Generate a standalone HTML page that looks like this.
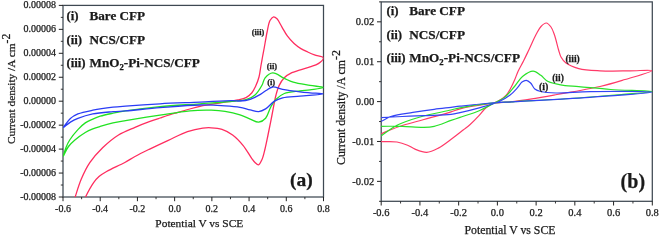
<!DOCTYPE html><html><head><meta charset="utf-8"><style>html,body{margin:0;padding:0;background:#fff;overflow:hidden}svg{display:block}text{font-family:"Liberation Serif",serif;fill:#1a1a1a;stroke:#1a1a1a;stroke-width:0.25px}svg{will-change:transform}</style></head><body>
<svg width="661" height="235" viewBox="0 0 661 235">
<defs><clipPath id="ca"><rect x="63.0" y="5.4" width="260.5" height="191.6"/></clipPath>
<clipPath id="cb"><rect x="381.2" y="1.9" width="271.1" height="199.4"/></clipPath></defs>
<rect x="63.00" y="5.40" width="260.50" height="191.60" fill="none" stroke="#3e4852" stroke-width="1.25"/>
<line x1="58.80" y1="5.40" x2="63.00" y2="5.40" stroke="#222" stroke-width="1"/>
<line x1="58.80" y1="29.35" x2="63.00" y2="29.35" stroke="#222" stroke-width="1"/>
<line x1="58.80" y1="53.30" x2="63.00" y2="53.30" stroke="#222" stroke-width="1"/>
<line x1="58.80" y1="77.25" x2="63.00" y2="77.25" stroke="#222" stroke-width="1"/>
<line x1="58.80" y1="101.20" x2="63.00" y2="101.20" stroke="#222" stroke-width="1"/>
<line x1="58.80" y1="125.15" x2="63.00" y2="125.15" stroke="#222" stroke-width="1"/>
<line x1="58.80" y1="149.10" x2="63.00" y2="149.10" stroke="#222" stroke-width="1"/>
<line x1="58.80" y1="173.05" x2="63.00" y2="173.05" stroke="#222" stroke-width="1"/>
<line x1="58.80" y1="197.00" x2="63.00" y2="197.00" stroke="#222" stroke-width="1"/>
<line x1="60.80" y1="17.38" x2="63.00" y2="17.38" stroke="#222" stroke-width="0.9"/>
<line x1="60.80" y1="41.32" x2="63.00" y2="41.32" stroke="#222" stroke-width="0.9"/>
<line x1="60.80" y1="65.28" x2="63.00" y2="65.28" stroke="#222" stroke-width="0.9"/>
<line x1="60.80" y1="89.23" x2="63.00" y2="89.23" stroke="#222" stroke-width="0.9"/>
<line x1="60.80" y1="113.17" x2="63.00" y2="113.17" stroke="#222" stroke-width="0.9"/>
<line x1="60.80" y1="137.12" x2="63.00" y2="137.12" stroke="#222" stroke-width="0.9"/>
<line x1="60.80" y1="161.07" x2="63.00" y2="161.07" stroke="#222" stroke-width="0.9"/>
<line x1="60.80" y1="185.03" x2="63.00" y2="185.03" stroke="#222" stroke-width="0.9"/>
<line x1="63.00" y1="197.00" x2="63.00" y2="201.20" stroke="#222" stroke-width="1"/>
<line x1="100.21" y1="197.00" x2="100.21" y2="201.20" stroke="#222" stroke-width="1"/>
<line x1="137.43" y1="197.00" x2="137.43" y2="201.20" stroke="#222" stroke-width="1"/>
<line x1="174.64" y1="197.00" x2="174.64" y2="201.20" stroke="#222" stroke-width="1"/>
<line x1="211.86" y1="197.00" x2="211.86" y2="201.20" stroke="#222" stroke-width="1"/>
<line x1="249.07" y1="197.00" x2="249.07" y2="201.20" stroke="#222" stroke-width="1"/>
<line x1="286.29" y1="197.00" x2="286.29" y2="201.20" stroke="#222" stroke-width="1"/>
<line x1="323.50" y1="197.00" x2="323.50" y2="201.20" stroke="#222" stroke-width="1"/>
<line x1="81.61" y1="197.00" x2="81.61" y2="199.20" stroke="#222" stroke-width="0.9"/>
<line x1="118.82" y1="197.00" x2="118.82" y2="199.20" stroke="#222" stroke-width="0.9"/>
<line x1="156.04" y1="197.00" x2="156.04" y2="199.20" stroke="#222" stroke-width="0.9"/>
<line x1="193.25" y1="197.00" x2="193.25" y2="199.20" stroke="#222" stroke-width="0.9"/>
<line x1="230.46" y1="197.00" x2="230.46" y2="199.20" stroke="#222" stroke-width="0.9"/>
<line x1="267.68" y1="197.00" x2="267.68" y2="199.20" stroke="#222" stroke-width="0.9"/>
<line x1="304.89" y1="197.00" x2="304.89" y2="199.20" stroke="#222" stroke-width="0.9"/>
<text x="56.00" y="7.90" font-size="10.00" text-anchor="end">0.00008</text>
<text x="56.00" y="31.85" font-size="10.00" text-anchor="end">0.00006</text>
<text x="56.00" y="55.80" font-size="10.00" text-anchor="end">0.00004</text>
<text x="56.00" y="79.75" font-size="10.00" text-anchor="end">0.00002</text>
<text x="56.00" y="103.70" font-size="10.00" text-anchor="end">0.00000</text>
<text x="56.00" y="127.65" font-size="10.00" text-anchor="end">-0.00002</text>
<text x="56.00" y="151.60" font-size="10.00" text-anchor="end">-0.00004</text>
<text x="56.00" y="175.55" font-size="10.00" text-anchor="end">-0.00006</text>
<text x="56.00" y="199.50" font-size="10.00" text-anchor="end">-0.00008</text>
<text x="63.00" y="211.60" font-size="10.00" text-anchor="middle">-0.6</text>
<text x="100.21" y="211.60" font-size="10.00" text-anchor="middle">-0.4</text>
<text x="137.43" y="211.60" font-size="10.00" text-anchor="middle">-0.2</text>
<text x="174.64" y="211.60" font-size="10.00" text-anchor="middle">0.0</text>
<text x="211.86" y="211.60" font-size="10.00" text-anchor="middle">0.2</text>
<text x="249.07" y="211.60" font-size="10.00" text-anchor="middle">0.4</text>
<text x="286.29" y="211.60" font-size="10.00" text-anchor="middle">0.6</text>
<text x="323.50" y="211.60" font-size="10.00" text-anchor="middle">0.8</text>
<path d="M73.00,204.00 C73.77,201.53 74.33,199.58 75.30,196.60 C76.80,191.99 78.88,184.75 81.30,179.10 C83.72,173.45 86.32,167.85 89.80,162.70 C93.38,157.39 97.87,152.38 102.60,147.80 C107.42,143.13 112.93,138.47 118.50,135.00 C123.76,131.72 129.60,129.62 135.00,127.30 C140.08,125.12 145.49,123.05 150.00,121.40 C153.65,120.06 156.32,119.21 160.00,118.00 C164.49,116.52 169.35,114.88 175.00,113.20 C182.26,111.04 191.89,108.10 200.00,106.30 C207.52,104.63 215.25,103.72 222.00,102.60 C227.76,101.65 233.61,101.01 238.00,100.00 C241.15,99.27 243.66,98.83 246.00,97.60 C248.19,96.45 250.12,94.83 251.70,93.00 C253.30,91.14 254.35,88.93 255.50,86.50 C256.83,83.68 258.11,80.33 259.00,77.00 C259.94,73.51 260.29,69.48 260.90,66.00 C261.45,62.85 261.95,60.00 262.50,57.00 C263.05,54.00 263.57,51.43 264.20,48.00 C265.05,43.43 266.04,36.88 267.10,32.00 C268.00,27.83 268.52,23.15 270.00,20.50 C270.98,18.75 272.35,16.97 273.60,16.80 C274.69,16.65 275.89,17.70 277.00,18.80 C278.76,20.54 280.39,24.46 282.10,27.30 C283.82,30.16 285.31,33.21 287.30,35.90 C289.31,38.61 291.72,41.32 294.10,43.50 C296.27,45.49 298.57,47.16 300.90,48.60 C303.11,49.96 305.42,50.94 307.70,52.00 C309.95,53.04 312.05,53.99 314.50,54.90 C317.27,55.93 323.07,56.22 323.50,57.80 C323.89,59.23 320.44,62.10 318.30,63.60 C316.00,65.20 312.89,65.89 310.00,66.90 C306.94,67.97 303.49,68.81 300.40,69.80 C297.47,70.74 294.57,71.38 291.90,72.70 C289.20,74.04 286.42,75.68 284.30,77.80 C282.18,79.92 280.57,82.62 279.20,85.40 C277.76,88.33 277.01,91.18 276.00,95.00 C274.56,100.42 273.33,108.33 272.00,115.00 C270.67,121.67 269.26,128.93 268.00,135.00 C266.95,140.09 266.08,144.69 265.00,149.00 C264.06,152.77 263.30,156.67 262.00,159.50 C261.01,161.66 259.82,164.53 258.50,164.80 C257.43,165.02 256.08,163.48 255.00,162.50 C253.79,161.40 253.01,160.18 251.70,158.40 C249.47,155.35 246.41,149.52 243.20,145.60 C240.03,141.73 236.35,137.77 232.60,135.00 C229.24,132.52 225.65,130.60 222.00,129.40 C218.54,128.26 214.67,127.99 211.30,127.80 C208.31,127.63 206.02,127.68 202.80,128.10 C198.42,128.67 192.80,129.81 187.50,131.60 C181.36,133.67 174.68,137.35 168.30,140.30 C161.91,143.25 155.08,146.43 149.20,149.30 C144.10,151.80 139.31,154.14 135.00,156.50 C131.28,158.53 128.73,160.37 124.80,162.50 C119.65,165.28 111.30,168.81 106.60,171.50 C103.45,173.30 101.19,174.60 99.00,176.50 C96.97,178.27 95.60,179.88 93.80,182.40 C91.17,186.08 87.50,192.97 85.50,197.00 C84.15,199.71 83.50,201.67 82.50,204.00" fill="none" stroke="#ff2d5f" stroke-width="1.30" stroke-linejoin="round" clip-path="url(#ca)"/>
<path d="M63.20,156.40 C64.13,153.43 64.88,150.30 66.00,147.50 C67.06,144.85 68.05,142.61 69.70,140.00 C71.78,136.71 75.11,132.59 77.90,129.60 C80.32,127.01 82.70,124.69 85.30,122.90 C87.69,121.26 90.28,120.23 92.80,119.10 C95.25,118.00 97.36,117.08 100.20,116.20 C103.85,115.06 108.75,114.09 113.00,113.20 C117.18,112.33 120.28,111.70 125.50,110.90 C134.13,109.57 148.06,107.76 160.00,106.60 C172.82,105.35 187.63,104.71 200.00,103.80 C210.72,103.01 221.45,102.36 230.00,101.50 C236.41,100.85 242.30,100.83 246.80,99.40 C250.14,98.34 252.58,97.14 255.00,95.00 C257.78,92.55 260.35,88.15 262.10,85.00 C263.49,82.49 263.44,79.77 265.10,77.80 C266.90,75.67 269.92,73.07 272.80,72.90 C276.20,72.69 280.70,76.77 284.30,78.40 C287.44,79.82 289.70,81.13 293.20,82.20 C297.85,83.62 304.70,84.48 310.00,85.40 C314.74,86.22 323.49,86.77 323.50,87.50 C323.51,88.23 314.17,89.19 310.00,89.80 C306.42,90.32 303.70,90.48 300.00,91.00 C295.35,91.65 288.58,91.76 284.30,93.50 C280.84,94.91 278.11,97.14 275.80,99.50 C273.64,101.72 272.29,104.26 270.70,107.10 C268.86,110.39 267.93,115.63 265.60,118.20 C263.71,120.27 261.17,121.98 258.70,122.20 C256.06,122.43 253.15,120.26 250.20,119.10 C246.94,117.82 243.78,116.03 240.00,114.80 C235.54,113.35 229.91,112.07 225.00,111.30 C220.36,110.58 216.37,110.33 211.30,110.20 C204.98,110.04 197.69,110.14 190.00,110.80 C180.83,111.58 170.34,113.53 160.00,115.10 C148.90,116.78 134.14,119.12 125.50,120.60 C120.29,121.49 117.17,121.95 113.00,122.90 C108.74,123.87 103.87,125.28 100.20,126.40 C97.38,127.26 95.24,127.90 92.80,128.90 C90.28,129.93 87.93,130.94 85.30,132.50 C82.03,134.44 77.86,137.46 74.90,140.00 C72.40,142.14 70.38,143.95 68.50,146.50 C66.42,149.33 64.97,153.10 63.20,156.40" fill="none" stroke="#22e222" stroke-width="1.30" stroke-linejoin="round" clip-path="url(#ca)"/>
<path d="M63.20,127.60 C65.60,124.53 67.74,120.75 70.40,118.40 C72.70,116.36 74.86,115.16 77.90,113.90 C81.92,112.24 87.43,111.26 92.80,110.20 C98.99,108.97 107.06,107.90 113.00,107.20 C117.66,106.65 120.30,106.50 125.50,106.10 C134.14,105.43 148.07,104.45 160.00,103.80 C172.84,103.10 187.36,102.66 200.00,102.10 C211.40,101.59 225.47,100.57 232.50,100.60 C235.88,100.61 237.32,101.15 240.00,101.00 C243.15,100.82 246.87,100.35 250.20,99.30 C253.68,98.20 257.56,96.06 260.40,94.40 C262.60,93.11 264.02,91.71 266.00,90.50 C268.07,89.23 270.10,87.33 272.60,87.00 C275.53,86.62 278.79,88.59 282.60,89.30 C287.59,90.23 294.99,91.19 300.00,91.80 C303.79,92.26 306.42,92.47 310.00,92.80 C314.16,93.18 323.50,93.45 323.50,93.90 C323.50,94.49 307.25,95.41 300.00,96.10 C293.76,96.70 287.30,96.61 282.60,97.80 C279.19,98.67 276.80,99.70 274.10,101.40 C271.11,103.28 268.44,107.17 265.60,108.90 C263.30,110.30 261.15,111.38 258.70,111.60 C256.05,111.83 253.15,110.57 250.20,109.90 C246.95,109.16 243.75,107.96 240.00,107.30 C235.51,106.51 230.64,106.17 225.00,105.80 C217.73,105.32 209.30,104.84 200.00,105.00 C188.22,105.21 172.83,106.67 160.00,107.70 C148.07,108.66 134.15,110.22 125.50,110.90 C120.30,111.31 117.66,111.30 113.00,111.70 C107.07,112.21 98.97,112.64 92.80,113.90 C87.40,115.00 81.97,116.79 77.90,118.40 C74.92,119.58 72.80,120.61 70.40,122.10 C67.90,123.65 65.60,125.77 63.20,127.60" fill="none" stroke="#2a3cf5" stroke-width="1.30" stroke-linejoin="round" clip-path="url(#ca)"/>
<text x="66.40" y="20.00" font-size="12.80" font-weight="bold">(i)</text>
<text x="89.50" y="20.00" font-size="12.80" font-weight="bold" textLength="55.60" lengthAdjust="spacingAndGlyphs">Bare CFP</text>
<text x="66.40" y="43.50" font-size="12.80" font-weight="bold">(ii)</text>
<text x="89.50" y="43.50" font-size="12.80" font-weight="bold" textLength="55.60" lengthAdjust="spacingAndGlyphs">NCS/CFP</text>
<text x="66.40" y="67.00" font-size="12.80" font-weight="bold">(iii)</text>
<text x="89.50" y="67.00" font-size="12.80" font-weight="bold" textLength="110.20" lengthAdjust="spacingAndGlyphs">MnO<tspan font-size="8.45" dy="2.8">2</tspan><tspan dy="-2.8">-Pi-NCS/CFP</tspan></text>
<text x="290" y="185.6" font-size="19.5" font-weight="bold">(a)</text>
<text x="199.3" y="227.1" font-size="11.4" text-anchor="middle">Potential V vs SCE</text>
<text transform="translate(15.0,144.0) rotate(-90)" font-size="11.35">Current density /A cm<tspan font-size="11.6" dy="-5.5">-2</tspan></text>
<text x="258" y="35" font-size="8.3" font-weight="bold" text-anchor="middle">(iii)</text>
<text x="271.9" y="69.2" font-size="8.5" font-weight="bold" text-anchor="middle">(ii)</text>
<text x="271.2" y="84.6" font-size="8.5" font-weight="bold" text-anchor="middle">(i)</text>
<rect x="381.20" y="1.90" width="271.10" height="199.40" fill="none" stroke="#3e4852" stroke-width="1.25"/>
<line x1="377.00" y1="21.84" x2="381.20" y2="21.84" stroke="#222" stroke-width="1"/>
<line x1="377.00" y1="61.72" x2="381.20" y2="61.72" stroke="#222" stroke-width="1"/>
<line x1="377.00" y1="101.60" x2="381.20" y2="101.60" stroke="#222" stroke-width="1"/>
<line x1="377.00" y1="141.48" x2="381.20" y2="141.48" stroke="#222" stroke-width="1"/>
<line x1="377.00" y1="181.36" x2="381.20" y2="181.36" stroke="#222" stroke-width="1"/>
<line x1="379.00" y1="1.90" x2="381.20" y2="1.90" stroke="#222" stroke-width="0.9"/>
<line x1="379.00" y1="41.78" x2="381.20" y2="41.78" stroke="#222" stroke-width="0.9"/>
<line x1="379.00" y1="81.66" x2="381.20" y2="81.66" stroke="#222" stroke-width="0.9"/>
<line x1="379.00" y1="121.54" x2="381.20" y2="121.54" stroke="#222" stroke-width="0.9"/>
<line x1="379.00" y1="161.42" x2="381.20" y2="161.42" stroke="#222" stroke-width="0.9"/>
<line x1="379.00" y1="201.30" x2="381.20" y2="201.30" stroke="#222" stroke-width="0.9"/>
<line x1="381.20" y1="201.30" x2="381.20" y2="205.50" stroke="#222" stroke-width="1"/>
<line x1="419.93" y1="201.30" x2="419.93" y2="205.50" stroke="#222" stroke-width="1"/>
<line x1="458.66" y1="201.30" x2="458.66" y2="205.50" stroke="#222" stroke-width="1"/>
<line x1="497.39" y1="201.30" x2="497.39" y2="205.50" stroke="#222" stroke-width="1"/>
<line x1="536.11" y1="201.30" x2="536.11" y2="205.50" stroke="#222" stroke-width="1"/>
<line x1="574.84" y1="201.30" x2="574.84" y2="205.50" stroke="#222" stroke-width="1"/>
<line x1="613.57" y1="201.30" x2="613.57" y2="205.50" stroke="#222" stroke-width="1"/>
<line x1="652.30" y1="201.30" x2="652.30" y2="205.50" stroke="#222" stroke-width="1"/>
<line x1="400.56" y1="201.30" x2="400.56" y2="203.50" stroke="#222" stroke-width="0.9"/>
<line x1="439.29" y1="201.30" x2="439.29" y2="203.50" stroke="#222" stroke-width="0.9"/>
<line x1="478.02" y1="201.30" x2="478.02" y2="203.50" stroke="#222" stroke-width="0.9"/>
<line x1="516.75" y1="201.30" x2="516.75" y2="203.50" stroke="#222" stroke-width="0.9"/>
<line x1="555.48" y1="201.30" x2="555.48" y2="203.50" stroke="#222" stroke-width="0.9"/>
<line x1="594.21" y1="201.30" x2="594.21" y2="203.50" stroke="#222" stroke-width="0.9"/>
<line x1="632.94" y1="201.30" x2="632.94" y2="203.50" stroke="#222" stroke-width="0.9"/>
<text x="374.20" y="25.24" font-size="10.50" text-anchor="end">0.02</text>
<text x="374.20" y="65.12" font-size="10.50" text-anchor="end">0.01</text>
<text x="374.20" y="105.00" font-size="10.50" text-anchor="end">0.00</text>
<text x="374.20" y="144.88" font-size="10.50" text-anchor="end">-0.01</text>
<text x="374.20" y="184.76" font-size="10.50" text-anchor="end">-0.02</text>
<text x="381.20" y="216.10" font-size="10.50" text-anchor="middle">-0.6</text>
<text x="419.93" y="216.10" font-size="10.50" text-anchor="middle">-0.4</text>
<text x="458.66" y="216.10" font-size="10.50" text-anchor="middle">-0.2</text>
<text x="497.39" y="216.10" font-size="10.50" text-anchor="middle">0.0</text>
<text x="536.11" y="216.10" font-size="10.50" text-anchor="middle">0.2</text>
<text x="574.84" y="216.10" font-size="10.50" text-anchor="middle">0.4</text>
<text x="613.57" y="216.10" font-size="10.50" text-anchor="middle">0.6</text>
<text x="652.30" y="216.10" font-size="10.50" text-anchor="middle">0.8</text>
<path d="M381.00,141.70 C386.33,141.80 392.26,141.25 397.00,142.00 C400.94,142.62 404.44,143.90 407.60,145.20 C410.35,146.33 412.18,147.99 415.00,149.10 C418.39,150.44 422.82,152.45 426.70,152.30 C430.62,152.15 434.45,150.13 438.40,148.10 C443.04,145.71 448.13,141.50 452.50,138.30 C456.43,135.42 460.37,132.24 463.50,129.80 C465.84,127.98 467.40,126.95 469.60,125.00 C472.51,122.42 476.47,118.36 479.20,115.40 C481.40,113.01 482.87,110.57 484.90,108.70 C486.73,107.01 488.57,105.73 490.70,104.50 C493.00,103.17 495.84,102.55 498.30,101.10 C500.95,99.54 503.92,97.51 506.00,95.30 C507.91,93.27 509.11,90.94 510.50,88.50 C511.99,85.87 513.34,82.86 514.60,80.00 C515.84,77.19 516.64,74.45 518.00,71.50 C519.54,68.15 521.71,64.56 523.50,61.00 C525.31,57.39 526.89,54.01 528.80,50.00 C531.10,45.17 533.97,38.28 536.30,34.00 C537.95,30.97 539.15,28.39 541.00,26.50 C542.57,24.90 544.62,22.90 546.30,23.00 C547.95,23.10 549.70,25.25 551.00,27.00 C552.55,29.08 553.39,31.87 554.50,35.00 C555.98,39.18 557.36,45.96 558.60,50.00 C559.46,52.79 559.80,54.85 561.00,57.00 C562.24,59.22 563.67,61.35 566.00,63.10 C569.10,65.43 573.89,67.32 578.80,68.60 C584.88,70.18 592.31,70.39 600.00,70.80 C609.12,71.29 620.75,70.95 630.00,70.90 C637.96,70.86 652.01,69.43 652.20,70.60 C652.42,71.93 633.90,76.80 625.00,79.50 C616.52,82.07 609.51,84.29 600.00,86.50 C587.65,89.37 571.26,92.02 557.00,94.50 C542.93,96.95 527.02,99.77 515.00,101.30 C506.03,102.44 499.81,102.40 491.40,103.50 C481.66,104.77 467.25,106.95 460.00,108.80 C456.04,109.81 454.83,110.70 451.00,111.90 C444.43,113.95 432.51,117.13 424.00,119.50 C416.37,121.63 408.48,123.52 402.30,125.50 C397.59,127.01 393.76,128.52 390.00,130.00 C386.75,131.28 384.00,132.53 381.00,133.80" fill="none" stroke="#ff3a68" stroke-width="1.20" stroke-linejoin="round" clip-path="url(#cb)"/>
<path d="M381.00,126.30 C388.10,126.30 395.20,126.13 402.30,126.30 C409.40,126.47 417.73,127.44 423.60,127.30 C427.75,127.20 430.32,127.15 434.20,126.30 C439.22,125.20 446.26,122.02 451.00,120.40 C454.46,119.22 456.44,118.61 460.00,117.40 C465.21,115.62 473.45,113.15 479.20,110.70 C484.15,108.59 488.28,106.17 492.60,103.90 C496.70,101.74 500.91,100.21 504.50,97.40 C508.25,94.47 511.41,90.11 514.50,86.50 C517.38,83.14 519.32,79.09 522.50,76.50 C525.56,74.01 529.86,71.05 533.10,71.10 C535.88,71.14 538.40,73.62 540.80,75.30 C543.24,77.01 545.03,79.87 547.60,81.30 C550.14,82.72 553.21,83.19 556.10,83.90 C559.01,84.62 561.70,85.17 565.00,85.60 C569.08,86.14 573.25,86.15 578.80,86.60 C587.24,87.29 599.36,88.70 610.70,89.50 C623.62,90.41 652.18,90.67 652.20,91.60 C652.22,92.40 632.55,93.53 621.40,94.50 C608.17,95.66 593.82,96.90 578.00,98.00 C558.96,99.33 530.95,100.76 515.00,101.70 C505.24,102.28 499.81,102.22 491.40,103.10 C481.66,104.12 467.28,106.37 460.00,107.80 C456.07,108.57 454.90,109.08 451.00,110.00 C443.77,111.70 429.48,114.23 420.00,117.00 C411.68,119.43 403.79,121.87 397.00,125.30 C390.98,128.34 386.33,132.43 381.00,136.00" fill="none" stroke="#2ae22a" stroke-width="1.20" stroke-linejoin="round" clip-path="url(#cb)"/>
<path d="M381.00,117.60 C388.10,117.23 395.20,116.83 402.30,116.50 C409.40,116.17 416.05,115.92 423.60,115.60 C432.16,115.23 444.37,115.20 451.00,114.40 C454.84,113.94 456.45,113.40 460.00,112.60 C465.21,111.43 472.83,109.56 479.20,107.80 C485.60,106.03 492.85,104.37 498.30,102.00 C502.75,100.06 506.49,97.84 509.80,95.30 C512.79,93.01 515.33,90.10 517.50,87.70 C519.27,85.74 520.34,83.32 522.00,82.10 C523.33,81.12 524.90,80.28 526.30,80.40 C527.76,80.52 529.29,81.78 530.60,83.00 C532.18,84.48 533.03,87.57 534.80,89.00 C536.47,90.34 538.28,90.87 540.80,91.50 C544.67,92.47 549.99,92.83 556.10,93.00 C565.17,93.26 577.00,91.80 590.00,91.60 C607.61,91.34 652.17,91.35 652.20,92.30 C652.23,93.25 611.71,95.79 590.00,97.30 C566.18,98.96 533.07,100.68 515.00,101.70 C504.78,102.28 499.50,102.33 491.00,103.00 C481.32,103.76 467.23,105.38 460.00,106.20 C456.10,106.64 454.46,106.88 451.00,107.30 C446.27,107.87 440.13,108.52 434.20,109.30 C427.52,110.18 419.99,111.25 412.90,112.40 C405.79,113.55 397.36,114.29 391.60,116.20 C387.33,117.61 384.53,119.73 381.00,121.50" fill="none" stroke="#3344f5" stroke-width="1.20" stroke-linejoin="round" clip-path="url(#cb)"/>
<text x="386.40" y="15.30" font-size="12.80" font-weight="bold">(i)</text>
<text x="409.20" y="15.30" font-size="12.80" font-weight="bold" textLength="55.80" lengthAdjust="spacingAndGlyphs">Bare CFP</text>
<text x="386.40" y="38.80" font-size="12.80" font-weight="bold">(ii)</text>
<text x="409.20" y="38.80" font-size="12.80" font-weight="bold" textLength="55.80" lengthAdjust="spacingAndGlyphs">NCS/CFP</text>
<text x="386.40" y="62.40" font-size="12.80" font-weight="bold">(iii)</text>
<text x="409.20" y="62.40" font-size="12.80" font-weight="bold" textLength="110.80" lengthAdjust="spacingAndGlyphs">MnO<tspan font-size="8.45" dy="2.8">2</tspan><tspan dy="-2.8">-Pi-NCS/CFP</tspan></text>
<text x="620.6" y="188.3" font-size="20" font-weight="bold">(b)</text>
<text x="510" y="233.8" font-size="11.8" text-anchor="middle">Potential V vs SCE</text>
<text transform="translate(344.5,165.0) rotate(-90)" font-size="11.85">Current density /A cm<tspan font-size="12" dy="-4.9">-2</tspan></text>
<text x="572.6" y="62.2" font-size="9.6" font-weight="bold" text-anchor="middle">(iii)</text>
<text x="558" y="81.4" font-size="9.5" font-weight="bold" text-anchor="middle">(ii)</text>
<text x="543.7" y="90" font-size="10" font-weight="bold" text-anchor="middle">(i)</text>
</svg></body></html>
